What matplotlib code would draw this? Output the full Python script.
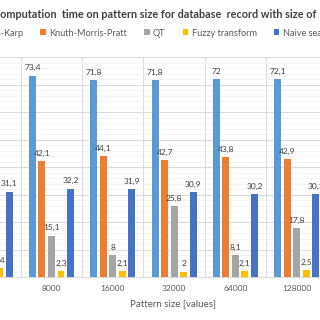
import numpy as np
import matplotlib
matplotlib.use("Agg")
import matplotlib.pyplot as plt

# Data (decimal commas in the labels)
sizes = ["4000", "8000", "16000", "32000", "64000", "128000"]
rabin_karp = [73.0, 73.4, 71.8, 71.8, 72, 72.1]
kmp = [42.5, 42.1, 44.1, 42.7, 43.8, 42.9]
qt = [12.0, 15.1, 8, 25.8, 8.1, 17.8]
fuzzy = [3.4, 2.3, 2.1, 2, 2.1, 2.5]
naive = [31.1, 32.2, 31.9, 30.9, 30.2, 30.1]

series_names = ["Rabin-Karp", "Knuth-Morris-Pratt", "QT", "Fuzzy transform", "Naive search"]
series_colors = ["#5B9BD5", "#ED7D31", "#A5A5A5", "#FFC000", "#4472C4"]

plt.rcParams["font.family"] = ["Lato", "DejaVu Sans"]

fig = plt.figure(figsize=(3.2, 3.2), dpi=100)
# the picture is a crop of a wider chart, so the axes run past the figure edges
ax = fig.add_axes([0, 43 / 320, 1, 0.686])

x = np.arange(len(sizes))
bar_w = 0.114
step = 0.155
all_series = [rabin_karp, kmp, qt, fuzzy, naive]

handles = []
for i, (vals, color) in enumerate(zip(all_series, series_colors)):
    bars = ax.bar(x + (i - 2) * step, vals, bar_w, color=color, zorder=3)
    handles.append(bars)
    for b, v in zip(bars, vals):
        ax.annotate("{:g}".format(v).replace(".", ","),
                    (b.get_x() + b.get_width() / 2, b.get_height()),
                    xytext=(0, 3), textcoords="offset points",
                    ha="center", va="bottom", fontsize=6, color="#404040")

# gridlines
ax.set_yticks(np.arange(0, 81, 10))
ax.set_yticks(np.arange(0, 81, 2), minor=True)
ax.set_xticks(x)
ax.set_xticks(x + 0.5, minor=True)
ax.set_xticklabels(sizes, fontsize=6, color="#595959")
ax.tick_params(axis="both", which="both", length=0)
ax.tick_params(axis="x", pad=6)
ax.tick_params(axis="y", labelleft=False)
ax.yaxis.grid(True, which="major", color="#D9D9D9", lw=0.7)
ax.yaxis.grid(True, which="minor", color="#F0F0F0", lw=0.5)
ax.xaxis.grid(True, which="minor", color="#D9D9D9", lw=0.7)
ax.set_axisbelow(True)
for side in ["top", "right", "left"]:
    ax.spines[side].set_visible(False)
ax.spines["bottom"].set_color("#D9D9D9")

# limits after the ticks, so set_xticks cannot widen them
ax.set_xlim(0.160, 5.380)
ax.set_ylim(0, 80)

ax.set_xlabel("Pattern size [values]", fontsize=7, color="#595959")
ax.xaxis.set_label_coords(172.5 / 320, -0.1)

# title and legend, shifted so the visible part lines up with the crop
title_size = 7.8
title = fig.text(0, 306 / 320, "Dependence of computation  time on pattern size for database  record with size of 1000 records",
                 fontsize=title_size, weight="bold", color="#404040", va="center", ha="left")
leg = fig.legend(handles, series_names, ncol=5, loc="center", bbox_to_anchor=(0.5, 287 / 320),
                 frameon=False, fontsize=6.6, handlelength=0.6, handleheight=0.6,
                 handletextpad=0.35, columnspacing=1.9, labelcolor="#595959")

fig.canvas.draw()
r = fig.canvas.get_renderer()
prefix = fig.text(0, 0, "Dependence of c", fontsize=title_size, weight="bold")
pw = prefix.get_window_extent(r).width
prefix.remove()
title.set_x(-pw / 320)

kx = leg.get_texts()[1].get_window_extent(r).x0
leg.set_bbox_to_anchor((0.5 + (49 - kx) / 320, 287 / 320), transform=fig.transFigure)

fig.savefig("out.png", dpi=100)
